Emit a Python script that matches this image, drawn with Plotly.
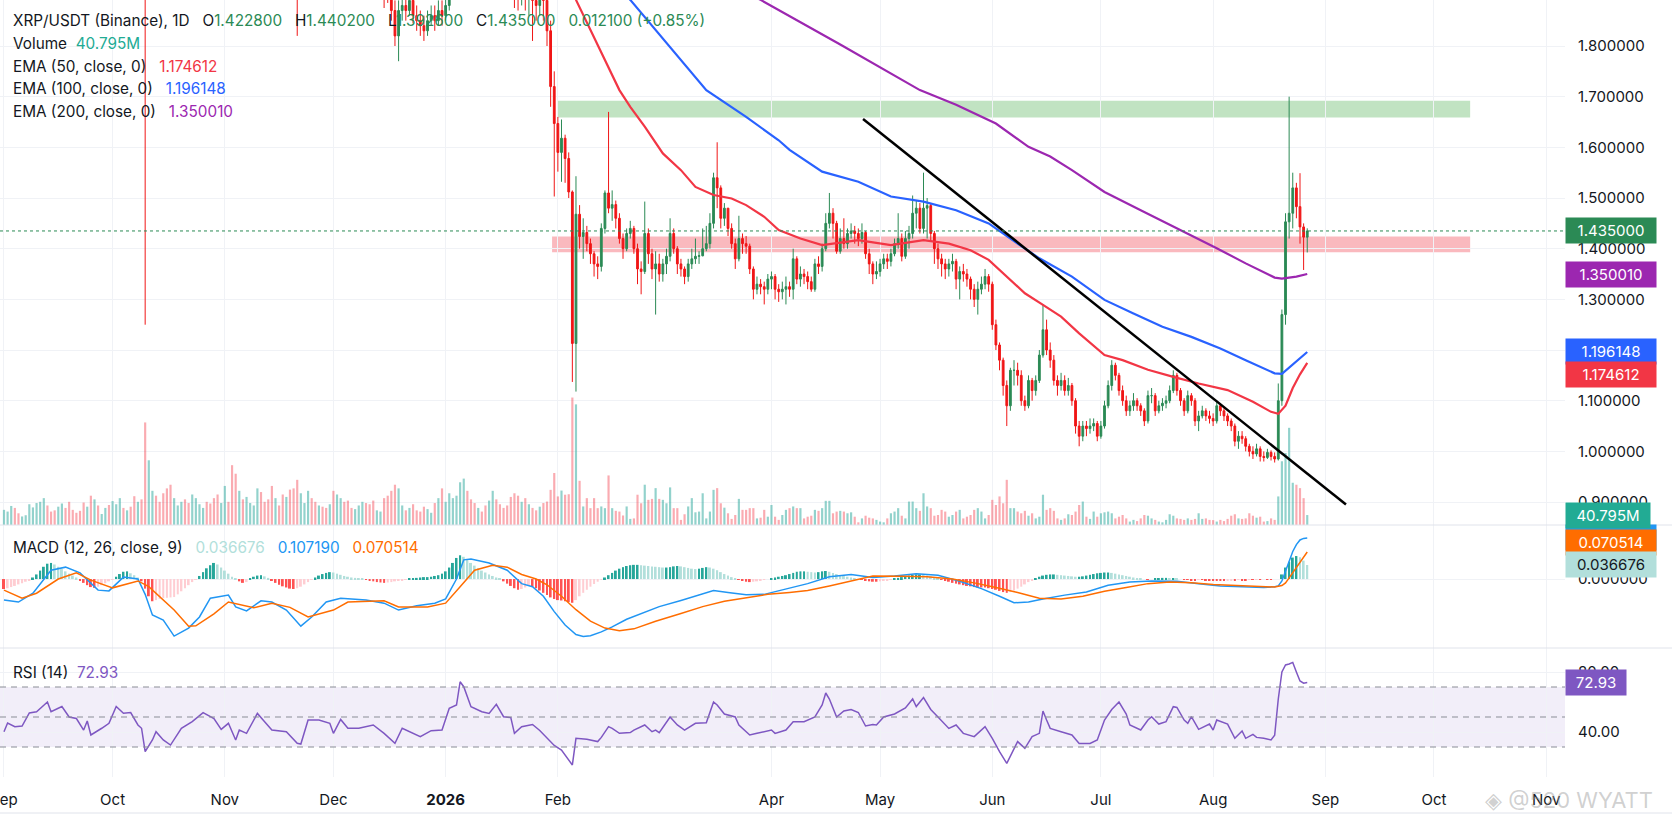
import pandas as pd
import plotly.graph_objects as go

# XRP/USDT daily candles, Binance, 2025-09-01 .. 2026-08-27
START = pd.Timestamp("2025-09-01")
FIRST_OPEN = 2.78

CLOSE = [
    # Sep 2025
    2.80, 2.83, 2.85, 2.82, 2.81, 2.83, 2.86, 2.96, 2.98, 3.02, 3.05, 3.12, 3.09, 3.03, 3.01,
    3.04, 3.09, 3.06, 2.98, 2.97, 2.88, 2.86, 2.85, 2.91, 2.77, 2.83, 2.80, 2.86, 2.90, 2.87,
    # Oct
    2.98, 3.00, 3.01, 2.97, 2.98, 2.95, 2.83, 2.86, 2.80, 2.36, 2.53, 2.62, 2.58, 2.52, 2.46, 2.34,
    2.32, 2.39, 2.44, 2.51, 2.46, 2.40, 2.52, 2.61, 2.63, 2.67, 2.64, 2.63, 2.57, 2.48, 2.50,
    # Nov
    2.52, 2.46, 2.30, 2.20, 2.28, 2.22, 2.24, 2.30, 2.40, 2.53, 2.38, 2.36, 2.34, 2.22, 2.27,
    2.24, 2.16, 2.22, 2.10, 2.02, 1.94, 2.03, 2.05, 2.22, 2.21, 2.20, 2.20, 2.18, 2.17, 2.20,
    # Dec
    2.04, 2.17, 2.20, 2.15, 2.08, 2.05, 2.06, 2.07, 2.09, 2.05, 2.03, 2.00, 2.00, 2.03, 1.93, 1.92,
    1.87, 1.82, 1.87, 1.88, 1.87, 1.89, 1.86, 1.85, 1.84, 1.83, 1.85, 1.86, 1.85, 1.87, 1.86,
    # Jan 2026
    1.88, 1.99, 2.02, 2.09, 2.25, 2.30, 2.18, 2.14, 2.09, 2.09, 2.07, 2.05, 2.06, 2.12, 2.10, 2.07,
    2.06, 2.02, 1.97, 1.91, 1.90, 1.92, 1.90, 1.91, 1.89, 1.88, 1.90, 1.89, 1.83, 1.72, 1.647,
    # Feb
    1.590, 1.618, 1.578, 1.512, 1.213, 1.468, 1.424, 1.432, 1.410, 1.390, 1.370, 1.365, 1.440, 1.510,
    1.480, 1.487, 1.460, 1.420, 1.400, 1.430, 1.440, 1.400, 1.360, 1.355, 1.430, 1.390, 1.360, 1.370,
    # Mar
    1.350, 1.370, 1.385, 1.430, 1.400, 1.370, 1.360, 1.345, 1.370, 1.380, 1.385, 1.386, 1.400, 1.410,
    1.450, 1.540, 1.520, 1.460, 1.480, 1.440, 1.410, 1.380, 1.420, 1.410, 1.405, 1.360, 1.320, 1.330,
    1.325, 1.320, 1.340,
    # Apr
    1.345, 1.320, 1.315, 1.320, 1.325, 1.320, 1.380, 1.340, 1.350, 1.345, 1.335, 1.320, 1.370, 1.365,
    1.400, 1.450, 1.470, 1.450, 1.395, 1.420, 1.410, 1.430, 1.435, 1.430, 1.420, 1.432, 1.390, 1.370,
    1.350, 1.355,
    # May
    1.370, 1.380, 1.375, 1.390, 1.410, 1.420, 1.385, 1.420, 1.430, 1.470, 1.480, 1.440, 1.480, 1.485,
    1.430, 1.400, 1.380, 1.370, 1.360, 1.370, 1.375, 1.340, 1.355, 1.350, 1.340, 1.320, 1.300, 1.320,
    1.330, 1.345, 1.330,
    # Jun
    1.250, 1.210, 1.180, 1.130, 1.090, 1.160, 1.160, 1.150, 1.100, 1.090, 1.140, 1.120, 1.140, 1.190,
    1.240, 1.200, 1.180, 1.140, 1.130, 1.140, 1.120, 1.130, 1.100, 1.050, 1.030, 1.050, 1.045, 1.050,
    1.055, 1.030,
    # Jul
    1.050, 1.090, 1.130, 1.170, 1.150, 1.120, 1.100, 1.080, 1.090, 1.100, 1.090, 1.080, 1.060, 1.110,
    1.110, 1.080, 1.090, 1.095, 1.100, 1.120, 1.150, 1.120, 1.100, 1.080, 1.110, 1.100, 1.060, 1.070,
    1.080, 1.070, 1.065,
    # Aug
    1.060, 1.090, 1.080, 1.070, 1.060, 1.050, 1.020, 1.030, 1.025, 1.010, 1.000, 0.995, 1.005, 0.990,
    0.988, 0.998, 0.990, 0.985, 1.100, 1.270, 1.453, 1.470, 1.520, 1.483, 1.443, 1.4228, 1.435,
]

HIGH = [
    2.84, 2.86, 2.89, 2.87, 2.86, 2.85, 2.89, 2.99, 3.02, 3.05, 3.08, 3.15, 3.18, 3.11, 3.06,
    3.07, 3.11, 3.12, 3.08, 3.01, 2.99, 2.90, 2.89, 2.94, 2.93, 2.86, 2.85, 2.89, 2.93, 2.93,
    3.00, 3.04, 3.08, 3.03, 3.02, 3.01, 2.97, 2.89, 2.88, 2.84, 2.60, 2.66, 2.66, 2.63, 2.55, 2.48,
    2.38, 2.42, 2.46, 2.55, 2.53, 2.48, 2.55, 2.64, 2.67, 2.70, 2.69, 2.67, 2.66, 2.59, 2.53,
    2.55, 2.54, 2.48, 2.33, 2.31, 2.30, 2.27, 2.33, 2.43, 2.58, 2.55, 2.42, 2.40, 2.36, 2.30,
    2.29, 2.26, 2.25, 2.24, 2.13, 2.05, 2.06, 2.08, 2.25, 2.25, 2.24, 2.23, 2.22, 2.20, 2.23,
    2.22, 2.19, 2.24, 2.22, 2.17, 2.10, 2.09, 2.10, 2.12, 2.11, 2.07, 2.05, 2.03, 2.05, 2.05, 1.96,
    1.94, 1.89, 1.89, 1.91, 1.90, 1.92, 1.91, 1.88, 1.87, 1.86, 1.87, 1.88, 1.88, 1.89, 1.89,
    1.90, 2.01, 2.05, 2.12, 2.29, 2.41, 2.32, 2.21, 2.16, 2.12, 2.11, 2.09, 2.08, 2.16, 2.14, 2.12,
    2.09, 2.07, 2.03, 1.98, 1.94, 1.95, 1.94, 1.93, 1.93, 1.92, 1.92, 1.92, 1.90, 1.85, 1.75,
    1.660, 1.655, 1.625, 1.590, 1.515, 1.543, 1.486, 1.460, 1.445, 1.420, 1.395, 1.385, 1.450, 1.515,
    1.670, 1.515, 1.495, 1.470, 1.430, 1.440, 1.455, 1.445, 1.410, 1.375, 1.493, 1.440, 1.400, 1.395,
    1.390, 1.380, 1.400, 1.460, 1.440, 1.405, 1.380, 1.365, 1.380, 1.400, 1.420, 1.395, 1.440, 1.445,
    1.470, 1.550, 1.610, 1.525, 1.490, 1.480, 1.450, 1.420, 1.465, 1.430, 1.425, 1.410, 1.365, 1.345,
    1.340, 1.335, 1.350,
    1.355, 1.350, 1.330, 1.335, 1.345, 1.335, 1.400, 1.385, 1.365, 1.360, 1.355, 1.345, 1.380, 1.385,
    1.410, 1.470, 1.510, 1.480, 1.455, 1.440, 1.460, 1.440, 1.450, 1.445, 1.440, 1.450, 1.435, 1.400,
    1.375, 1.375,
    1.380, 1.390, 1.390, 1.400, 1.420, 1.470, 1.430, 1.435, 1.445, 1.505, 1.495, 1.490, 1.550, 1.500,
    1.490, 1.435, 1.410, 1.390, 1.380, 1.380, 1.390, 1.380, 1.365, 1.370, 1.360, 1.345, 1.330, 1.335,
    1.345, 1.360, 1.350,
    1.335, 1.260, 1.215, 1.185, 1.140, 1.165, 1.180, 1.175, 1.160, 1.110, 1.150, 1.145, 1.150, 1.200,
    1.290, 1.260, 1.215, 1.190, 1.150, 1.155, 1.150, 1.145, 1.135, 1.105, 1.060, 1.060, 1.060, 1.065,
    1.065, 1.060,
    1.060, 1.100, 1.140, 1.180, 1.175, 1.155, 1.130, 1.110, 1.100, 1.115, 1.105, 1.095, 1.085, 1.120,
    1.125, 1.115, 1.100, 1.105, 1.110, 1.130, 1.160, 1.155, 1.125, 1.105, 1.120, 1.115, 1.105, 1.080,
    1.090, 1.085, 1.080,
    1.075, 1.100, 1.095, 1.085, 1.075, 1.065, 1.055, 1.040, 1.040, 1.030, 1.015, 1.010, 1.015, 1.010,
    1.000, 1.005, 1.002, 0.998, 1.134, 1.280, 1.470, 1.700, 1.550, 1.530, 1.549, 1.450, 1.4402,
]

LOW = [
    2.74, 2.77, 2.80, 2.79, 2.77, 2.79, 2.81, 2.84, 2.93, 2.95, 2.99, 3.02, 3.06, 2.99, 2.96,
    2.98, 3.01, 3.03, 2.95, 2.93, 2.84, 2.78, 2.81, 2.82, 2.72, 2.74, 2.77, 2.78, 2.83, 2.82,
    2.85, 2.95, 2.97, 2.93, 2.93, 2.91, 2.80, 2.79, 2.76, 1.25, 2.33, 2.48, 2.54, 2.47, 2.42, 2.30,
    2.19, 2.28, 2.36, 2.41, 2.42, 2.36, 2.38, 2.49, 2.57, 2.60, 2.60, 2.59, 2.53, 2.44, 2.45,
    2.47, 2.42, 2.24, 2.07, 2.17, 2.18, 2.18, 2.21, 2.27, 2.37, 2.34, 2.32, 2.29, 2.17, 2.19,
    2.20, 2.12, 2.11, 2.06, 1.96, 1.82, 1.91, 1.99, 2.03, 2.17, 2.16, 2.17, 2.15, 2.14, 2.15,
    2.00, 2.02, 2.15, 2.12, 2.05, 2.02, 2.02, 2.03, 2.04, 2.01, 1.99, 1.97, 1.96, 1.95, 1.875, 1.885,
    1.85, 1.80, 1.77, 1.85, 1.85, 1.86, 1.845, 1.83, 1.82, 1.81, 1.82, 1.84, 1.83, 1.84, 1.84,
    1.85, 1.87, 1.97, 2.00, 2.07, 2.22, 2.14, 2.10, 2.06, 2.06, 2.04, 2.02, 2.02, 2.04, 2.07, 2.04,
    2.03, 1.99, 1.93, 1.875, 1.87, 1.88, 1.87, 1.86, 1.81, 1.85, 1.86, 1.85, 1.80, 1.68, 1.503,
    1.552, 1.532, 1.530, 1.500, 1.137, 1.118, 1.400, 1.380, 1.395, 1.370, 1.345, 1.340, 1.355, 1.430,
    1.470, 1.455, 1.440, 1.410, 1.380, 1.395, 1.420, 1.390, 1.330, 1.310, 1.350, 1.370, 1.340, 1.270,
    1.335, 1.335, 1.350, 1.375, 1.390, 1.350, 1.345, 1.330, 1.335, 1.360, 1.370, 1.370, 1.385, 1.395,
    1.400, 1.440, 1.480, 1.440, 1.445, 1.425, 1.400, 1.360, 1.375, 1.390, 1.390, 1.350, 1.300, 1.310,
    1.310, 1.290, 1.310,
    1.320, 1.300, 1.295, 1.300, 1.290, 1.305, 1.300, 1.330, 1.325, 1.330, 1.320, 1.315, 1.315, 1.350,
    1.355, 1.395, 1.440, 1.420, 1.390, 1.390, 1.400, 1.400, 1.420, 1.410, 1.405, 1.410, 1.380, 1.350,
    1.330, 1.340,
    1.345, 1.360, 1.360, 1.365, 1.385, 1.400, 1.375, 1.380, 1.400, 1.420, 1.440, 1.430, 1.430, 1.420,
    1.415, 1.370, 1.360, 1.345, 1.340, 1.345, 1.355, 1.320, 1.300, 1.335, 1.325, 1.300, 1.285, 1.270,
    1.310, 1.320, 1.315,
    1.240, 1.200, 1.160, 1.110, 1.050, 1.080, 1.130, 1.130, 1.090, 1.080, 1.085, 1.100, 1.110, 1.135,
    1.185, 1.190, 1.165, 1.130, 1.110, 1.120, 1.110, 1.110, 1.090, 1.035, 1.010, 1.020, 1.030, 1.035,
    1.040, 1.020,
    1.025, 1.045, 1.085, 1.120, 1.140, 1.110, 1.090, 1.070, 1.070, 1.080, 1.080, 1.070, 1.050, 1.055,
    1.095, 1.070, 1.075, 1.080, 1.085, 1.095, 1.115, 1.110, 1.090, 1.070, 1.075, 1.090, 1.050, 1.040,
    1.065, 1.060, 1.055,
    1.050, 1.055, 1.070, 1.060, 1.050, 1.040, 1.010, 1.005, 1.015, 1.000, 0.990, 0.985, 0.990, 0.980,
    0.980, 0.985, 0.982, 0.978, 0.982, 1.090, 1.250, 1.420, 1.440, 1.460, 1.410, 1.358, 1.3926,
]

# daily volume, millions
VOLUME_M = [
    62, 55, 78, 70, 48, 35, 40, 85, 72, 90, 95, 110, 80, 55, 60, 75, 88, 70, 95, 62,
    50, 58, 92, 75, 120, 105, 80, 45, 70, 82,
    98, 85, 110, 70, 60, 75, 118, 95, 105, 420, 265, 140, 120, 95, 130, 150, 165, 110, 80, 95,
    105, 90, 125, 110, 85, 70, 95, 88, 110, 125, 90,
    160, 95, 245, 210, 140, 105, 115, 90, 80, 150, 135, 95, 105, 160, 110, 80, 125, 115, 145, 150,
    185, 130, 90, 140, 110, 95, 80, 75, 70, 85,
    140, 125, 110, 95, 100, 70, 65, 80, 95, 90, 85, 100, 60, 55, 110, 120, 140, 165, 150, 80,
    60, 70, 85, 60, 55, 75, 65, 50, 90, 110, 150,
    95, 130, 110, 120, 175, 190, 140, 105, 90, 70, 55, 80, 100, 140, 105, 85, 70, 80, 115, 130,
    120, 95, 110, 85, 70, 60, 75, 90, 96, 144, 213,
    117, 141, 124, 126, 522, 494, 181, 76, 110, 69, 110, 69, 76, 69, 203, 69, 58, 55, 39, 76,
    25, 27, 124, 89, 165, 103, 107, 151,
    107, 103, 89, 154, 69, 69, 21, 44, 76, 110, 52, 55, 130, 27, 55, 144, 151, 89, 71, 48,
    25, 41, 107, 62, 62, 69, 69, 27, 30, 62, 34,
    82, 34, 21, 41, 62, 69, 76, 69, 69, 27, 34, 38, 62, 58, 69, 99, 99, 48, 55, 58,
    55, 48, 52, 34, 11, 27, 38, 30, 27, 21,
    14, 11, 27, 48, 55, 69, 38, 27, 96, 96, 69, 58, 130, 76, 69, 38, 41, 62, 55, 34,
    41, 55, 62, 27, 34, 41, 62, 69, 55, 27, 41,
    103, 82, 117, 89, 185, 69, 69, 55, 48, 58, 38, 48, 27, 34, 124, 62, 69, 58, 27, 21,
    27, 44, 41, 55, 82, 96, 34, 25, 55, 34,
    48, 52, 55, 48, 27, 34, 41, 27, 14, 21, 16, 27, 41, 38, 27, 21, 14, 11, 21, 44,
    38, 27, 25, 21, 27, 21, 25, 48, 25, 27, 21,
    20, 14, 21, 16, 25, 38, 44, 27, 25, 27, 48, 38, 30, 34, 14, 16, 27, 21, 117, 261,
    295, 398, 173, 165, 151, 110, 40.795,
]

# MACD histogram, one value per day from START
MACD_HIST = [
    -0.026, -0.024, -0.021, -0.018, -0.014, -0.011, -0.007, -0.003, 0.004, 0.012,
    0.022, 0.032, 0.040, 0.042, 0.038, 0.032, 0.026, 0.020, 0.014, 0.009,
    0.004, -0.004, -0.010, -0.016, -0.021, -0.023, -0.020, -0.016, -0.011, -0.006,
    -0.001, 0.006, 0.013, 0.019, 0.020, 0.015, 0.010, 0.004, -0.006, -0.025,
    -0.045, -0.058, -0.055, -0.052, -0.050, -0.049, -0.048, -0.047, -0.040, -0.032,
    -0.024, -0.016, -0.008, -0.002, 0.008, 0.018, 0.028, 0.036, 0.042, 0.038,
    0.030, 0.022, 0.014, 0.006, 0.001, -0.006, -0.010, -0.008, 0.002, 0.006,
    0.009, 0.010, 0.007, 0.003, -0.005, -0.010, -0.015, -0.019, -0.022, -0.025,
    -0.026, -0.024, -0.020, -0.014, -0.008, -0.002, 0.004, 0.009, 0.013, 0.016,
    0.018, 0.017, 0.014, 0.011, 0.008, 0.006, 0.004, 0.003, 0.002, 0.001,
    -0.002, -0.004, -0.006, -0.008, -0.009, -0.010, -0.009, -0.008, -0.006, -0.004,
    -0.003, -0.001, 0.001, 0.002, 0.003, 0.004, 0.005, 0.005, 0.006, 0.008,
    0.010, 0.014, 0.020, 0.030, 0.042, 0.055, 0.062, 0.058, 0.050, 0.042,
    0.035, 0.028, 0.022, 0.017, 0.012, 0.008, 0.004, 0.001, -0.006, -0.012,
    -0.018, -0.024, -0.028, -0.026, -0.022, -0.018, -0.020, -0.024, -0.030, -0.036,
    -0.042, -0.048, -0.052, -0.055, -0.056, -0.058, -0.060, -0.062, -0.055, -0.045,
    -0.036, -0.028, -0.020, -0.013, -0.007, -0.002, 0.004, 0.010, 0.016, 0.022,
    0.027, 0.031, 0.034, 0.036, 0.037, 0.037, 0.036, 0.035, 0.034, 0.033,
    0.032, 0.031, 0.030, 0.030, 0.031, 0.033, 0.034, 0.033, 0.031, 0.029,
    0.027, 0.026, 0.027, 0.029, 0.031, 0.030, 0.027, 0.023, 0.018, 0.013,
    0.009, 0.005, 0.002, -0.002, -0.005, -0.007, -0.008, -0.007, -0.006, -0.004,
    -0.002, 0.000, 0.002, 0.004, 0.006, 0.008, 0.010, 0.013, 0.016, 0.019,
    0.020, 0.020, 0.019, 0.018, 0.017, 0.018, 0.020, 0.021, 0.019, 0.016,
    0.013, 0.010, 0.008, 0.006, 0.004, 0.002, 0.000, -0.002, -0.004, -0.006,
    -0.007, -0.007, -0.006, -0.005, -0.003, -0.001, 0.001, 0.003, 0.005, 0.007,
    0.009, 0.011, 0.012, 0.012, 0.011, 0.009, 0.007, 0.005, 0.002, -0.001,
    -0.004, -0.007, -0.010, -0.012, -0.014, -0.016, -0.018, -0.019, -0.021, -0.022,
    -0.022, -0.022, -0.024, -0.026, -0.028, -0.031, -0.034, -0.036, -0.034, -0.030,
    -0.025, -0.020, -0.014, -0.008, -0.003, 0.002, 0.006, 0.009, 0.011, 0.012,
    0.012, 0.011, 0.010, 0.009, 0.008, 0.007, 0.006, 0.006, 0.007, 0.009,
    0.011, 0.013, 0.015, 0.016, 0.017, 0.017, 0.016, 0.014, 0.012, 0.010,
    0.008, 0.006, 0.004, 0.002, 0.001, 0.000, -0.001, 0.000, 0.001, 0.002,
    0.003, 0.003, 0.002, 0.002, 0.001, 0.000, -0.001, -0.002, -0.003, -0.003,
    -0.002, -0.002, -0.003, -0.004, -0.004, -0.004, -0.005, -0.005, -0.004, -0.003,
    -0.003, -0.002, -0.003, -0.003, -0.002, -0.002, -0.001, -0.001, 0.000, -0.001,
    -0.001, 0.000, 0.000, 0.012, 0.030, 0.045, 0.056, 0.060, 0.057, 0.048,
    0.036676,
]

# MACD / signal lines read at sample days (days from START)
MACD_DAYS = [0, 4, 8, 13, 17, 21, 26, 29, 33, 37, 39, 41, 44, 47, 51, 54, 57, 62, 64, 67,
             71, 74, 78, 82, 85, 89, 93, 100, 105, 109, 114, 119, 122, 125, 127, 129, 134, 139,
             143, 146, 149, 152, 155, 158, 160, 162, 165, 168, 172, 176, 181, 187, 192, 196,
             200, 205, 210, 217, 222, 228, 234, 240, 246, 252, 258, 264, 270, 275, 279, 283,
             287, 293, 299, 305, 311, 317, 324, 330, 336, 342, 348, 351, 352, 353, 354, 355,
             356, 357, 358, 359, 360]
MACD_LINE = [-0.055, -0.060, -0.037, 0.023, 0.031, 0.016, -0.029, -0.031, 0.005, 0.000,
             -0.040, -0.094, -0.107, -0.149, -0.128, -0.099, -0.050, -0.042, -0.073, -0.083,
             -0.057, -0.060, -0.081, -0.123, -0.099, -0.060, -0.050, -0.055, -0.063, -0.081,
             -0.070, -0.063, -0.052, 0.000, 0.050, 0.052, 0.042, 0.023,
             -0.012, -0.020, -0.045, -0.085, -0.120, -0.145, -0.150, -0.148, -0.138, -0.125,
             -0.105, -0.090, -0.072, -0.056, -0.042, -0.030, -0.035, -0.041, -0.040, -0.024,
             -0.012, 0.006, 0.012, 0.004, 0.008, 0.014, 0.010, -0.006, -0.025, -0.045, -0.062,
             -0.060, -0.052, -0.042, -0.034, -0.016, -0.008, -0.005, -0.006, -0.012, -0.018,
             -0.020, -0.022, -0.020, -0.018, -0.005, 0.020, 0.048, 0.072, 0.090, 0.102, 0.106,
             0.10719]
SIGNAL_DAYS = [0, 5, 9, 15, 20, 24, 30, 37, 40, 47, 51, 53, 58, 62, 69, 74, 79, 84, 91, 95,
               105, 109, 117, 122, 126, 130, 135, 139, 143, 147, 150, 154, 158, 162, 166, 170,
               174, 180, 187, 193, 199, 205, 211, 217, 222, 228, 234, 240, 248, 255, 262, 268,
               274, 280, 286, 292, 298, 304, 310, 316, 322, 328, 334, 340, 346, 351, 353, 354,
               355, 356, 357, 358, 359, 360]
SIGNAL_LINE = [-0.029, -0.050, -0.037, 0.000, 0.016, -0.003, -0.023, -0.005, -0.020, -0.081,
               -0.123, -0.122, -0.091, -0.060, -0.075, -0.063, -0.074, -0.099, -0.081, -0.060,
               -0.057, -0.073, -0.073, -0.063, -0.020, 0.023, 0.036, 0.031, 0.012, 0.000,
               -0.015, -0.045, -0.080, -0.110, -0.128, -0.135, -0.130, -0.110, -0.090, -0.072,
               -0.058, -0.048, -0.040, -0.035, -0.030, -0.018, -0.005, 0.008, 0.007, 0.006,
               0.000, -0.010, -0.022, -0.035, -0.050, -0.052, -0.045, -0.032, -0.022, -0.012,
               -0.008, -0.010, -0.014, -0.017, -0.020, -0.021, -0.017, -0.010, 0.003, 0.016,
               0.030, 0.045, 0.058, 0.070514]

RSI_DAYS = [0, 1, 3, 5, 7, 9, 12, 13, 16, 18, 20, 22, 23, 24, 27, 29, 31, 33, 35, 37, 38, 39,
            41, 42, 44, 46, 49, 52, 55, 58, 60, 62, 64, 65, 67, 70, 72, 74, 78, 81, 82, 84, 87,
            90, 91, 93, 95, 98, 102, 105, 108, 110, 115, 118, 121, 123, 125, 126, 127, 129, 132,
            134, 136, 138, 140, 141, 143, 146, 148, 150, 152, 154, 157, 158, 161, 164, 165, 167,
            168, 170, 173, 174, 177, 179, 180, 181, 184, 186, 188, 191, 194, 196, 197, 199, 202,
            203, 206, 208, 210, 212, 213, 216, 218, 221, 224, 226, 227, 228, 230, 232, 234, 236,
            238, 240, 241, 243, 246, 249, 251, 252, 254, 256, 258, 261, 263, 265, 268, 271, 273,
            275, 277, 280, 282, 284, 286, 287, 288, 289, 292, 295, 297, 300, 302, 304, 306, 308,
            310, 311, 314, 316, 317, 319, 321, 323, 324, 326, 327, 328, 330, 333, 334, 335, 338,
            340, 342, 343, 345, 346, 348, 350, 351, 352, 353, 354, 355, 356, 357, 358, 359, 360]
RSI_VALUES = [40.2, 46, 43.5, 44, 52.7, 53.5, 60, 53.5, 57, 50, 49, 41.3, 47.3, 38, 42.5, 45.8,
              57, 52.5, 53, 44.7, 42.5, 26.9, 34.7, 40.2, 34.7, 31.3, 42.5, 46.9, 52.9, 49, 41.8,
              45.8, 34.7, 41.3, 39.1, 52.4, 46.9, 41.3, 40.2, 32.5, 32, 48, 48, 45.8, 39.1, 48.4,
              42.5, 42.5, 44.7, 39.1, 32.5, 42.5, 36.9, 40.9, 41.3, 55.8, 58, 73.5, 70.2, 56.9,
              53.5, 52.4, 58.5, 50.2, 49.6, 39.1, 43.5, 45, 41, 36, 31, 28, 18, 35.8, 35.1, 33.6,
              36.4, 43.6, 42.4, 39.1, 39.6, 41.3, 44.7, 40.2, 41.3, 39.6, 50, 44.7, 41.3, 45.8,
              46.2, 60, 58, 52, 50, 44.7, 38, 39.1, 40.2, 41.3, 39.1, 41.3, 46.9, 46.9, 50, 58,
              66, 62, 50, 54, 55, 53, 44, 45, 44.7, 50, 52, 56, 62, 57, 63, 55, 50, 42.4, 44.7,
              39.1, 36.9, 43.6, 35.8, 26.9, 19.1, 33.6, 29.1, 36.9, 39.1, 54, 48, 42.4, 40.2, 38,
              32.4, 32.4, 34.7, 48, 55, 60, 52, 44.7, 41.3, 48, 50.2, 45.3, 46.9, 56.9, 56.4, 48,
              45.8, 50.2, 41.8, 45.3, 41.3, 48, 45.3, 35.8, 40.7, 35.8, 38.4, 36.4, 35.8, 34.7,
              37.8, 62, 80, 84.7, 85.3, 86.4, 80, 74, 72.5, 72.93]

EMA50_DAYS = [150, 158, 170, 173, 177, 182, 187, 191, 196, 201, 205, 210, 214, 220, 226, 236,
              245, 254, 261, 267, 272, 277, 282, 287, 292, 297, 304, 309, 316, 323, 330, 338,
              345, 350, 352, 354, 356, 358, 360]
EMA50 = [2.02, 1.891, 1.713, 1.680, 1.641, 1.588, 1.555, 1.522, 1.506, 1.499, 1.486, 1.463,
         1.437, 1.420, 1.407, 1.417, 1.407, 1.417, 1.410, 1.397, 1.378, 1.345, 1.312, 1.289,
         1.266, 1.233, 1.190, 1.180, 1.161, 1.147, 1.134, 1.121, 1.098, 1.078, 1.074, 1.090,
         1.125, 1.152, 1.174612]
EMA100_DAYS = [165, 173, 194, 205, 214, 217, 226, 236, 245, 254, 263, 272, 280, 286, 295, 304,
               312, 320, 328, 336, 343, 351, 353, 356, 358, 360]
EMA100 = [1.955, 1.891, 1.713, 1.660, 1.614, 1.595, 1.552, 1.532, 1.503, 1.493, 1.476, 1.450,
          1.410, 1.381, 1.345, 1.299, 1.272, 1.246, 1.226, 1.203, 1.180, 1.154, 1.153, 1.172,
          1.185, 1.196148]
EMA200_DAYS = [200, 209, 231, 253, 263, 274, 283, 289, 295, 304, 314, 325, 335, 343, 351, 353,
               357, 360]
EMA200 = [1.925, 1.891, 1.803, 1.713, 1.684, 1.647, 1.601, 1.582, 1.555, 1.512, 1.476, 1.437,
          1.401, 1.371, 1.343, 1.341, 1.345, 1.350010]

# drawings
TREND_DAYS = [237.3, 370.7]
TREND_PRICES = [1.656, 0.895]
ZONE_END_DAY = 405.0
RESIST_DAYS = [152.8, ZONE_END_DAY]
RESIST_PRICES = [1.659, 1.692]
SUPPORT_DAYS = [151.4, ZONE_END_DAY]
SUPPORT_PRICES = [1.393, 1.424]

TICK_DAYS = [0, 30, 61, 91, 122, 153, 212, 242, 273, 303, 334, 365, 395, 426]
TICK_TEXT = ["Sep", "Oct", "Nov", "Dec", "<b>2026</b>", "Feb", "Apr", "May", "Jun", "Jul",
             "Aug", "Sep", "Oct", "Nov"]
X_RANGE_DAYS = [-1.1, 431.2]


def day(d):
    return START + pd.to_timedelta(d, unit="D")


def days(seq):
    return [day(d) for d in seq]


GREEN = "#2b8a55"
RED = "#f01616"
TEXT = "#131722"
GRID = "#f0f2f6"
FONT = "Inter, Roboto, sans-serif"

dates = pd.date_range(START, periods=len(CLOSE), freq="D")
opens = [FIRST_OPEN] + CLOSE[:-1]

vol_colors = ["rgba(38,166,154,0.5)" if c >= o else "rgba(242,54,69,0.42)"
              for o, c in zip(opens, CLOSE)]

hist_colors = []
prev = 0.0
for h in MACD_HIST:
    if h >= 0:
        hist_colors.append("#26a69a" if h >= prev else "#b2dfdb")
    else:
        hist_colors.append("#ffcdd2" if h > prev else "#ff5252")
    prev = h
hist_dates = pd.date_range(START, periods=len(MACD_HIST), freq="D")

fig = go.Figure()

fig.add_trace(go.Bar(x=dates, y=VOLUME_M, marker=dict(color=vol_colors, line_width=0),
                     width=0.6 * 86400000, xaxis="x", yaxis="y2", hoverinfo="skip"))
fig.add_trace(go.Candlestick(
    x=dates, open=opens, high=HIGH, low=LOW, close=CLOSE, xaxis="x", yaxis="y",
    increasing=dict(line=dict(color=GREEN, width=1), fillcolor=GREEN),
    decreasing=dict(line=dict(color=RED, width=1), fillcolor=RED),
    whiskerwidth=0))
fig.add_trace(go.Scatter(x=days(EMA50_DAYS), y=EMA50, mode="lines",
                         line=dict(color="#f23645", width=2.2), xaxis="x", yaxis="y"))
fig.add_trace(go.Scatter(x=days(EMA100_DAYS), y=EMA100, mode="lines",
                         line=dict(color="#2962ff", width=2.2), xaxis="x", yaxis="y"))
fig.add_trace(go.Scatter(x=days(EMA200_DAYS), y=EMA200, mode="lines",
                         line=dict(color="#9c27b0", width=2.2), xaxis="x", yaxis="y"))

fig.add_trace(go.Bar(x=hist_dates, y=MACD_HIST, marker=dict(color=hist_colors, line_width=0),
                     width=0.55 * 86400000, xaxis="x2", yaxis="y3"))
fig.add_trace(go.Scatter(x=days(MACD_DAYS), y=MACD_LINE, mode="lines",
                         line=dict(color="#2196f3", width=1.5), xaxis="x2", yaxis="y3"))
fig.add_trace(go.Scatter(x=days(SIGNAL_DAYS), y=SIGNAL_LINE, mode="lines",
                         line=dict(color="#ff6d00", width=1.5), xaxis="x2", yaxis="y3"))

fig.add_trace(go.Scatter(x=days(RSI_DAYS), y=RSI_VALUES, mode="lines",
                         line=dict(color="#7e57c2", width=1.5), xaxis="x3", yaxis="y4"))

# pane geometry (plot area 777 px tall)
PRICE_DOM = [0.32432, 1.0]
MACD_DOM = [0.16602, 0.32432]
RSI_DOM = [0.0, 0.16602]

xcommon = dict(type="date", range=days(X_RANGE_DAYS), tickvals=days(TICK_DAYS), showgrid=True,
               gridcolor=GRID, zeroline=False, showline=False, ticks="", automargin=False)
ycommon = dict(side="right", showgrid=True, gridcolor=GRID, zeroline=False, showline=False,
               ticks="", ticklabelstandoff=12, automargin=False,
               tickfont=dict(family=FONT, size=15, color=TEXT))

fig.update_layout(
    width=1672, height=828, margin=dict(l=0, r=107, t=0, b=51),
    paper_bgcolor="white", plot_bgcolor="white", showlegend=False, hovermode=False,
    font=dict(family=FONT, color=TEXT),
    xaxis=dict(**xcommon, domain=[0, 1], anchor="y", showticklabels=False,
               rangeslider=dict(visible=False)),
    xaxis2=dict(**xcommon, domain=[0, 1], anchor="y3", matches="x", showticklabels=False),
    xaxis3=dict(**xcommon, domain=[0, 1], anchor="y4", matches="x", ticktext=TICK_TEXT,
                ticklabelstandoff=12, ticklabeloverflow="allow",
                tickfont=dict(family=FONT, size=15, color=TEXT)),
    yaxis=dict(**ycommon, domain=PRICE_DOM, anchor="x", range=[0.8547, 1.8908], dtick=0.1,
               tick0=0, tickformat=".6f"),
    yaxis2=dict(overlaying="y", range=[0, 2150], visible=False),
    yaxis3=dict(**ycommon, domain=MACD_DOM, anchor="x2", range=[-0.180, 0.141], tickvals=[0],
                ticktext=["0.000000"]),
    yaxis4=dict(**ycommon, domain=RSI_DOM, anchor="x3", range=[10, 96], tickvals=[40, 80],
                ticktext=["40.00", "80.00"]),
)

# zones, trend line, RSI band
fig.add_shape(type="rect", xref="x", yref="y", x0=day(RESIST_DAYS[0]), x1=day(RESIST_DAYS[1]),
              y0=RESIST_PRICES[0], y1=RESIST_PRICES[1], fillcolor="rgba(76,175,80,0.35)",
              line_width=0, layer="below")
fig.add_shape(type="rect", xref="x", yref="y", x0=day(SUPPORT_DAYS[0]), x1=day(SUPPORT_DAYS[1]),
              y0=SUPPORT_PRICES[0], y1=SUPPORT_PRICES[1], fillcolor="rgba(242,54,69,0.35)",
              line_width=0, layer="below")
fig.add_shape(type="line", xref="x", yref="y", x0=day(TREND_DAYS[0]), x1=day(TREND_DAYS[1]),
              y0=TREND_PRICES[0], y1=TREND_PRICES[1], line=dict(color="black", width=2.5))
fig.add_shape(type="line", xref="paper", yref="y", x0=0, x1=1, y0=CLOSE[-1], y1=CLOSE[-1],
              line=dict(color=GREEN, width=1, dash="dot"))

fig.add_shape(type="rect", xref="paper", yref="y4", x0=0, x1=1, y0=30, y1=70,
              fillcolor="rgba(126,87,194,0.1)", line_width=0, layer="below")
for lvl in (70, 50, 30):
    fig.add_shape(type="line", xref="paper", yref="y4", x0=0, x1=1, y0=lvl, y1=lvl,
                  line=dict(color="#8a8d96", width=1, dash="6px,5px"))

# pane separators and bottom border
for yp in (PRICE_DOM[0], MACD_DOM[0], -36 / 777):
    fig.add_shape(type="line", xref="paper", yref="paper", x0=0, x1=1.0684, y0=yp, y1=yp,
                  line=dict(color="#e0e3eb", width=1))

# legends (top-left of each pane)
SP = "\u00a0\u00a0"
SP3 = "\u00a0\u00a0\u00a0"


def span(txt, col):
    return f"<span style='color:{col}'>{txt}</span>"


legend_lines = [
    (0.973, "XRP/USDT (Binance), 1D" + SP3 + "O" + span("1.422800", GREEN) + SP3 + "H"
     + span("1.440200", GREEN) + SP3 + "L" + span("1.392600", GREEN) + SP3 + "C"
     + span("1.435000", GREEN) + SP3 + span("0.012100 (+0.85%)", GREEN)),
    (0.9434, "Volume" + SP + span("40.795M", "#22ab94")),
    (0.915, "EMA (50, close, 0)" + SP3 + span("1.174612", "#f23645")),
    (0.8855, "EMA (100, close, 0)" + SP3 + span("1.196148", "#2962ff")),
    (0.857, "EMA (200, close, 0)" + SP3 + span("1.350010", "#9c27b0")),
    (0.296, "MACD (12, 26, close, 9)" + SP3 + span("0.036676", "#b2dfdb") + SP3
     + span("0.107190", "#2196f3") + SP3 + span("0.070514", "#ff6d00")),
    (0.1351, "RSI (14)" + SP + span("72.93", "#7e57c2")),
]
for yp, txt in legend_lines:
    fig.add_annotation(xref="paper", yref="paper", x=0.007, y=yp, xanchor="left",
                       yanchor="middle", text=txt, showarrow=False,
                       font=dict(family=FONT, size=15.3, color=TEXT))

# price-scale labels
scale_labels = [
    ("y3", MACD_LINE[-1], "0.107190", "#2196f3", "white", 0, 84),
    ("y3", SIGNAL_LINE[-1], "0.070514", "#ff6d00", "white", 10, 84),
    ("y3", MACD_HIST[-1], "0.036676", "#b2dfdb", TEXT, 0, 84),
    ("y", CLOSE[-1], "1.435000", GREEN, "white", 0, 84),
    ("y", EMA200[-1], "1.350010", "#9c27b0", "white", 0, 84),
    ("y", EMA100[-1], "1.196148", "#2962ff", "white", 0, 84),
    ("y", EMA50[-1], "1.174612", "#f23645", "white", -12, 84),
    ("y2", VOLUME_M[-1], "40.795M", "#22ab94", "white", 0, 78),
    ("y4", RSI_VALUES[-1], "72.93", "#7e57c2", "white", 0, 54),
]
for yref, val, txt, bg, fg, shift, w in scale_labels:
    fig.add_annotation(xref="paper", yref=yref, x=1.0, y=val, xanchor="left", yanchor="middle",
                       text=txt, showarrow=False, bgcolor=bg, borderpad=3, width=w,
                       yshift=shift, font=dict(family=FONT, size=15, color=fg))

# watermark
fig.add_annotation(xref="paper", yref="paper", x=0.9476, y=-0.03, xanchor="left",
                   yanchor="middle", text="\u25c8 @520 WYATT", showarrow=False,
                   font=dict(family=FONT, size=22, color="rgba(150,150,150,0.45)"))

fig.write_html("out.html", config={"displayModeBar": False},
               post_script="document.body.style.margin='0';")
